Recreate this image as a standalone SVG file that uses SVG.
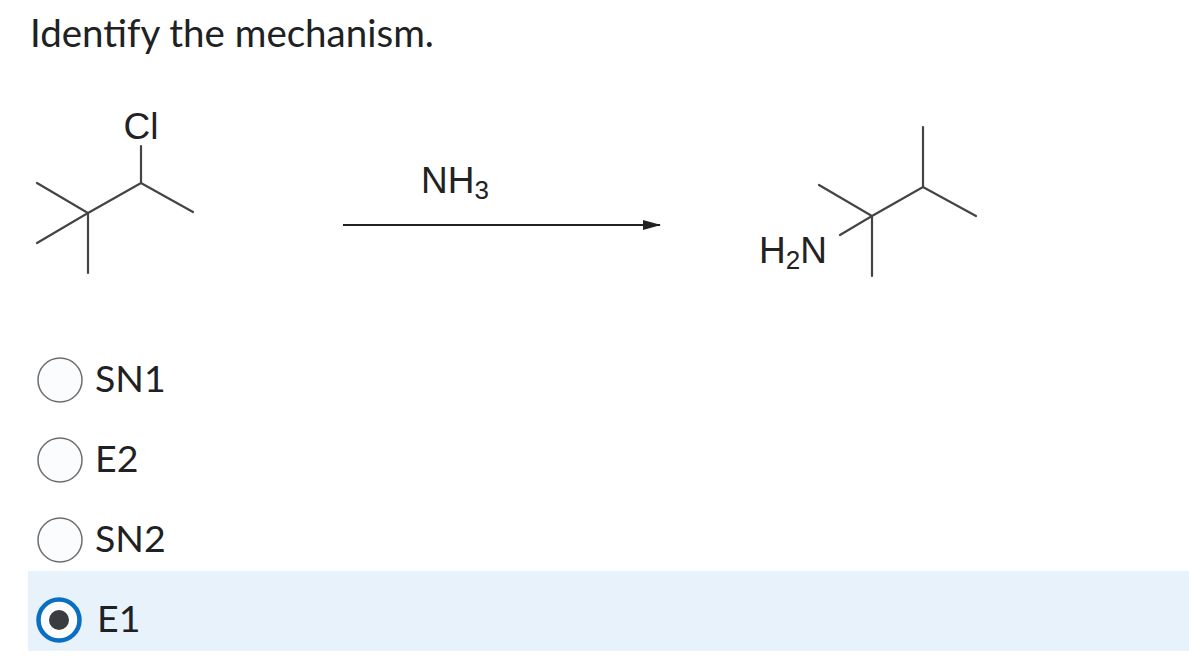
<svg xmlns="http://www.w3.org/2000/svg" width="1189" height="667" viewBox="0 0 1189 667">
<style>
.t{font-family:Lato,"Open Sans",sans-serif;fill:#202122}
.m{font-family:"Liberation Sans",Arial,sans-serif;fill:#222;font-size:37px}
.b{stroke:#444;stroke-width:2.2;fill:none;stroke-linecap:round}
.r{fill:#fbfcfd;stroke:#6f6f6f;stroke-width:1.5}
</style>
<defs><marker id="ah" markerWidth="18" markerHeight="10" refX="17" refY="5" orient="auto" markerUnits="userSpaceOnUse"><path d="M0,0 L18,5 L0,10 Z" fill="#222"/></marker></defs>
<rect width="1189" height="667" fill="#fff"/>
<text class="t" x="30" y="47" font-size="38.5">Identify the mechanism.</text>
<g id="reactant">
<path class="b" d="M37,183 L88,213 L37,243 M88,213 L88,273 M88,213 L141,183 L193,212 M141,183 L141,146"/>
<text class="m" x="141" y="139" text-anchor="middle" font-size="35">Cl</text>
</g>
<g id="product">
<path class="b" d="M819,185 L872,216 L840,235 M872,216 L872,276 M872,216 L923,187 L976,216 M923,187 L923,127"/>
<text class="m" x="759" y="263">H<tspan font-size="26" dy="6">2</tspan><tspan dy="-6">N</tspan></text>
</g>
<g id="connectors">
<line x1="343" y1="225" x2="660" y2="225" stroke="#222" stroke-width="2" marker-end="url(#ah)"/>
<text class="m" x="421" y="193">NH<tspan font-size="26" dy="6">3</tspan></text>
</g>
<g id="options">
<rect x="28" y="571" width="1161" height="80" fill="#e8f2fb"/>
<circle class="r" cx="60" cy="380" r="22"/>
<text class="t" x="95" y="392" font-size="37.5">SN1</text>
<circle class="r" cx="60" cy="460" r="22"/>
<text class="t" x="95" y="472" font-size="37.5">E2</text>
<circle class="r" cx="60" cy="540" r="22"/>
<text class="t" x="95" y="552" font-size="37.5">SN2</text>
<circle cx="59" cy="620" r="20.5" fill="#fbfcfd" stroke="#0a6fc2" stroke-width="4.5"/>
<circle cx="59" cy="620" r="10" fill="#3a3d40"/>
<text class="t" x="97" y="632" font-size="37.5">E1</text>
</g>
</svg>
